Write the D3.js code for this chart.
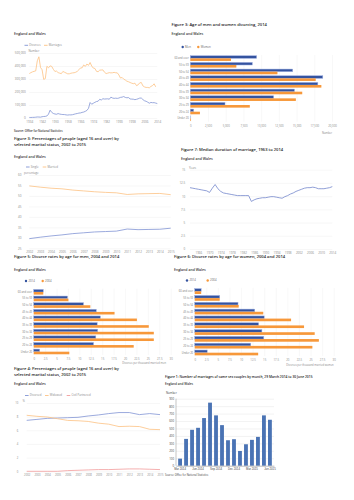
<!DOCTYPE html>
<html>
<head>
<meta charset="utf-8">
<script src="https://cdn.jsdelivr.net/npm/d3@7"></script>
<style>
  body { margin: 0; background: #fff; }
  svg { display: block; font-family: "Open Sans", sans-serif; }
</style>
</head>
<body>
<svg id="page" width="354" height="500"></svg>
<script>
// ---- data ----
const longYears = d3.range(1934, 2015)
const divorces = [4300, 4100, 4800, 5000, 6100, 7900, 7500, 6400, 9900, 11600, 12300, 15600, 29800, 60300, 43700, 34900,
  30900, 28800, 33900, 30300, 28000, 26800, 26300, 23800, 22700, 24300, 23900, 25400, 28900, 32100, 34700, 37800,
  39100, 43100, 45800, 51300, 58200, 74400, 119000, 106000, 113500, 120500, 126700, 129100, 143700, 138700, 148300,
  145700, 146700, 147500, 144500, 160300, 153900, 151000, 152600, 150900, 153400, 158700, 160400, 165000, 158200,
  155500, 157100, 146700, 145200, 144600, 141100, 143800, 147700, 153100, 153400, 141800, 132600, 128500, 121800,
  113900, 119600, 117600, 118100, 114700, 111200]
const marriages = [342000, 349000, 355000, 359000, 362000, 440000, 471000, 389000, 371000, 297000, 303000, 398000,
  386000, 401000, 397000, 375000, 358000, 361000, 349000, 345000, 341000, 358000, 352000, 346000, 340000, 340000,
  344000, 347000, 348000, 352000, 359000, 371000, 385000, 386000, 408000, 397000, 415000, 405000, 427000, 400000,
  384000, 381000, 359000, 356000, 368000, 369000, 370000, 352000, 342000, 345000, 349000, 347000, 348000, 351000,
  348000, 347000, 331000, 307000, 312000, 299000, 292000, 283000, 279000, 273000, 268000, 264000, 268000, 249000,
  255000, 270000, 273000, 247000, 239000, 235000, 235000, 232000, 243000, 249000, 263000, 240000]

const ageGroups = ['60 and over', '55 to 59', '50 to 54', '45 to 49', '40 to 44', '35 to 39', '30 to 34', '25 to 29', '20 to 24', 'Under 20']
const menDivorcing = [9360, 8750, 14450, 18700, 18000, 14700, 11760, 4900, 470, 20]
const womenDivorcing = [5740, 6500, 12300, 17700, 18500, 15800, 14900, 8400, 1360, 100]

const statusYears = [2002, 2003, 2004, 2005, 2006, 2007, 2008, 2009, 2010, 2011, 2012, 2013, 2014, 2015]
const single = [29.6, 30.3, 30.9, 31.4, 32.0, 32.4, 32.8, 33.0, 33.2, 34.2, 33.9, 34.0, 34.1, 34.6]
const married = [54.8, 54.2, 53.7, 53.4, 52.8, 52.4, 52.0, 51.7, 51.5, 50.7, 51.0, 51.1, 51.2, 50.6]
const divorcedPct = [7.46, 7.6, 7.75, 7.8, 7.85, 7.9, 8.1, 8.25, 8.45, 8.6, 8.6, 8.3, 8.45, 8.3]
const widowedPct = [8.2, 8.05, 7.95, 7.7, 7.45, 7.4, 7.3, 7.05, 6.9, 6.55, 6.6, 6.55, 6.15, 6.1]
const civilPct = [0, 0, 0, 0, 0.1, 0.15, 0.2, 0.25, 0.25, 0.3, 0.35, 0.35, 0.3, 0.25]

const durationYears = d3.range(1963, 2015)
const medianDuration = [11.6, 11.5, 11.4, 11.3, 11.2, 11.1, 11.0, 10.7, 11.5, 12.2, 11.4, 10.9, 10.6, 10.5, 10.4, 10.3,
  10.2, 10.1, 10.1, 10.1, 10.1, 10.1, 9.0, 9.3, 9.5, 9.6, 9.7, 9.7, 9.8, 9.9, 9.9, 9.8, 9.7, 9.6, 9.9, 10.1, 10.4,
  10.6, 10.9, 11.1, 11.3, 11.5, 11.6, 11.6, 11.7, 11.6, 11.4, 11.4, 11.4, 11.5, 11.6, 11.8]

const menRate2014 = [2.1, 7.4, 10.9, 13.7, 14.6, 13.9, 14.0, 13.6, 13.1, 1.3]
const menRate2004 = [2.1, 7.6, 12.4, 17.7, 22.6, 25.2, 26.3, 26.3, 21.9, 7.8]
const womenRate2014 = [1.4, 5.4, 9.35, 12.95, 15.0, 13.8, 14.5, 14.9, 12.1, 2.7]
const womenRate2004 = [1.4, 5.4, 9.5, 14.8, 20.8, 23.6, 25.9, 26.8, 25.4, 13.7]

const months = ['Mar 2014', 'Apr 2014', 'May 2014', 'Jun 2014', 'Jul 2014', 'Aug 2014', 'Sep 2014', 'Oct 2014',
  'Nov 2014', 'Dec 2014', 'Jan 2015', 'Feb 2015', 'Mar 2015', 'Apr 2015', 'May 2015', 'Jun 2015']
const sameSex = [95, 360, 482, 509, 640, 847, 676, 545, 342, 356, 198, 288, 347, 387, 676, 617]

const blueLine = '#8194d4', orangeLine = '#fdc283'
const blueBar = '#34539f', orangeBar = '#f7983a'

const svg = d3.select('#page')

function label(x, y, str, o = {}) {
  return svg.append('text')
    .attr('x', x).attr('y', y)
    .attr('font-size', o.size || 3)
    .attr('font-weight', o.weight || 400)
    .attr('fill', o.fill || '#333')
    .attr('text-anchor', o.anchor || 'start')
    .attr('dominant-baseline', 'middle')
    .text(str)
}

function styleAxis(a, size, fill) {
  a.select('.domain').remove()
  a.selectAll('text').attr('font-size', size).attr('fill', fill).attr('font-family', '"Open Sans", sans-serif')
}

/* line charts */
function lineChart(c) {
  const g = svg.append('g')
  const x = d3.scaleLinear().domain(c.xDomain).range([c.left, c.right])
  const y = d3.scaleLinear().domain(c.yDomain).range([c.bottom, c.top])

  g.append('g')
    .attr('transform', `translate(${c.left},0)`)
    .call(d3.axisLeft(y).tickValues(c.yTicks).tickSize(-(c.right - c.left + (c.gridExtra || 0))).tickPadding(c.yPad).tickFormat(c.yFmt))
    .call(a => {
      styleAxis(a, c.tickSize || 3, '#8a8a8a')
      a.selectAll('line').attr('stroke', '#ececec').attr('stroke-width', 0.4)
    })

  g.append('g')
    .attr('transform', `translate(0,${c.bottom})`)
    .call(d3.axisBottom(x).tickValues(c.xTicks).tickSize(0).tickFormat(d3.format('d')))
    .call(a => {
      styleAxis(a, c.tickSize || 3, '#8a8a8a')
      a.selectAll('text').attr('dy', null).attr('y', c.xLabelY - c.bottom).attr('dominant-baseline', 'middle')
    })

  c.series.forEach(s => {
    g.append('path')
      .datum(s.values.map((v, i) => [s.xs[i], v]))
      .attr('fill', 'none')
      .attr('stroke', s.color)
      .attr('stroke-width', 0.8)
      .attr('stroke-linejoin', 'round')
      .attr('d', d3.line().x(d => x(d[0])).y(d => y(d[1])))
  })
}

/* horizontal grouped bars */
function hbarChart(c) {
  const g = svg.append('g')
  const x = d3.scaleLinear().domain(c.xDomain).range([c.left, c.right])
  const y = d3.scaleBand().domain(ageGroups).range([c.top, c.bottom]).paddingInner(0.22).paddingOuter(0.11)
  const inner = d3.scaleBand().domain(d3.range(c.series.length)).range([0, y.bandwidth()])

  g.append('g')
    .attr('transform', `translate(0,${c.bottom})`)
    .call(d3.axisBottom(x).tickValues(c.xTicks).tickSize(-(c.bottom - c.top)).tickFormat(c.xFmt))
    .call(a => {
      styleAxis(a, 2.8, '#8a8a8a')
      a.selectAll('line').attr('stroke', '#eeeeee').attr('stroke-width', 0.4)
      a.selectAll('text').attr('dy', null).attr('y', c.xLabelY - c.bottom).attr('dominant-baseline', 'middle')
    })

  g.append('g')
    .attr('transform', `translate(${c.left},0)`)
    .call(d3.axisLeft(y).tickSize(0).tickPadding(1.6))
    .call(a => styleAxis(a, 2.6, '#777'))

  c.series.forEach((s, k) => {
    g.selectAll(null)
      .data(s.values)
      .enter()
      .append('rect')
      .attr('x', x(0))
      .attr('y', (d, i) => y(ageGroups[i]) + inner(k))
      .attr('width', d => x(d) - x(0))
      .attr('height', inner.bandwidth())
      .attr('fill', s.color)
      .attr('stroke', s.stroke || 'none')
      .attr('stroke-width', 0.5)
  })
}

function circleLegend(items, y) {
  items.forEach(it => {
    svg.append('circle').attr('cx', it.x).attr('cy', y).attr('r', 1.2).attr('fill', it.color)
    label(it.x + 2.4, y, it.name, { size: 2.8, fill: '#666' })
  })
}

function lineLegend(items, y) {
  items.forEach(it => {
    svg.append('line').attr('x1', it.x).attr('x2', it.x + 3.6).attr('y1', y).attr('y2', y)
      .attr('stroke', it.color).attr('stroke-width', 0.9)
    label(it.x + 4.8, y, it.name, { size: 2.8, fill: '#888' })
  })
}

const titleOpt = { size: 4.1, weight: 600, fill: '#222' }
const subOpt = { size: 3.5, weight: 600, fill: '#333' }

/* panel 1: marriages and divorces */
label(14, 34.5, 'England and Wales', subOpt)
lineLegend([{ x: 24.5, name: 'Divorces', color: blueLine }, { x: 44, name: 'Marriages', color: orangeLine }], 45.3)
label(28.5, 51, 'Number', { size: 2.8, fill: '#888' })
lineChart({
  left: 29.3, right: 157.3, top: 53, bottom: 118,
  xDomain: [1934, 2014], yDomain: [0, 500000],
  yTicks: [0, 100000, 200000, 300000, 400000, 500000], yFmt: d3.format(','), yPad: 3.5,
  xTicks: d3.range(1934, 2015, 8), xLabelY: 122,
  series: [
    { xs: longYears, values: divorces, color: blueLine },
    { xs: longYears, values: marriages, color: orangeLine }
  ]
})

/* panel 2: age of men and women divorcing */
label(171.5, 24.5, 'Figure 3: Age of men and women divorcing, 2014', titleOpt)
label(171.5, 34.5, 'England and Wales', subOpt)
circleLegend([{ x: 182.7, name: 'Men', color: blueBar }, { x: 198.3, name: 'Women', color: orangeBar }], 47)
hbarChart({
  left: 190.3, right: 332, top: 55, bottom: 121.7,
  xDomain: [0, 20000], xTicks: d3.range(0, 20001, 2500), xFmt: d3.format(','), xLabelY: 126.7,
  series: [
    { values: menDivorcing, color: blueBar, stroke: '#9fb0e2' },
    { values: womenDivorcing, color: orangeBar }
  ]
})
label(332, 133, 'Number', { size: 2.6, fill: '#888', anchor: 'end' })

/* panel 3: single and married */
label(14, 131.5, 'Source: Office for National Statistics', { size: 2.8, weight: 600, fill: '#333' })
label(14, 138.5, 'Figure 3: Percentages of people (aged 16 and over) by', titleOpt)
label(14, 144.5, 'selected marital status, 2002 to 2015', titleOpt)
label(14, 157, 'England and Wales', subOpt)
lineLegend([{ x: 26, name: 'Single', color: blueLine }, { x: 42.7, name: 'Married', color: orangeLine }], 167)
label(24, 173, 'percentage', { size: 2.8, fill: '#888' })
lineChart({
  left: 29.3, right: 170.7, top: 175, bottom: 248.3,
  xDomain: [2002, 2015], yDomain: [25, 60],
  yTicks: d3.range(25, 61, 5), yFmt: d3.format('d'), yPad: 7.8,
  xTicks: statusYears, xLabelY: 252,
  series: [
    { xs: statusYears, values: single, color: blueLine },
    { xs: statusYears, values: married, color: orangeLine }
  ]
})

/* panel 4: median duration */
label(181, 149.5, 'Figure 7: Median duration of marriage, 1963 to 2014', titleOpt)
label(181, 159.5, 'England and Wales', subOpt)
label(189, 168, 'Years', { size: 2.8, fill: '#888' })
lineChart({
  left: 190, right: 332.3, top: 169.7, bottom: 249,
  xDomain: [1963, 2014], yDomain: [0, 15],
  yTicks: [0, 2.5, 5, 7.5, 10, 12.5, 15], yFmt: d3.format('~g'), yPad: 4.7,
  xTicks: d3.range(1966, 2015, 4), xLabelY: 253,
  series: [{ xs: durationYears, values: medianDuration, color: '#7487cc' }]
})

/* panel 5: divorce rates, men */
label(14, 257, 'Figure 5: Divorce rates by age for men, 2004 and 2014', titleOpt)
label(14, 270, 'England and Wales', subOpt)
circleLegend([{ x: 26, name: '2014', color: blueBar }, { x: 42.7, name: '2004', color: orangeBar }], 281)
hbarChart({
  left: 33.7, right: 170.7, top: 288.7, bottom: 355,
  xDomain: [0, 30], xTicks: d3.range(0, 30.1, 2.5), xFmt: d3.format('~g'), xLabelY: 359,
  series: [
    { values: menRate2014, color: blueBar, stroke: '#9fb0e2' },
    { values: menRate2004, color: orangeBar }
  ]
})
label(166, 363.5, 'Divorces per thousand married men', { size: 2.6, fill: '#888', anchor: 'end' })

/* panel 6: divorce rates, women */
label(174, 257, 'Figure 6: Divorce rates by age for women, 2004 and 2014', titleOpt)
label(174, 270, 'England and Wales', subOpt)
circleLegend([{ x: 187, name: '2014', color: blueBar }, { x: 207.7, name: '2004', color: orangeBar }], 280.5)
hbarChart({
  left: 194.7, right: 333.7, top: 287.9, bottom: 356.1,
  xDomain: [0, 30], xTicks: d3.range(0, 30.1, 2.5), xFmt: d3.format('~g'), xLabelY: 360,
  series: [
    { values: womenRate2014, color: blueBar, stroke: '#9fb0e2' },
    { values: womenRate2004, color: orangeBar }
  ]
})
label(333.7, 365, 'Divorces per thousand married women', { size: 2.6, fill: '#888', anchor: 'end' })

/* panel 7: divorced, widowed, civil partnered */
label(14, 368.5, 'Figure 4: Percentages of people (aged 16 and over) by', titleOpt)
label(14, 375, 'selected marital status, 2002 to 2015', titleOpt)
label(14, 384.5, 'England and Wales', subOpt)
lineLegend([
  { x: 25, name: 'Divorced', color: blueLine },
  { x: 45, name: 'Widowed', color: orangeLine },
  { x: 66.7, name: 'Civil Partnered', color: '#f29c9c' }
], 395.5)
label(22.5, 401, '%', { size: 2.8, fill: '#888' })
lineChart({
  left: 26.7, right: 160, top: 403, bottom: 471.3,
  xDomain: [2002, 2015], yDomain: [0, 10],
  yTicks: [0, 2, 4, 6, 8, 10], yFmt: d3.format('d'), yPad: 8.4,
  xTicks: statusYears, xLabelY: 475, tickSize: 2.7,
  series: [
    { xs: statusYears, values: divorcedPct, color: blueLine },
    { xs: statusYears, values: widowedPct, color: orangeLine },
    { xs: statusYears, values: civilPct, color: '#f29c9c' }
  ]
})

/* panel 8: same sex marriages by month */
label(165, 376.7, 'Figure 1: Number of marriages of same sex couples by month, 29 March 2014 to 30 June 2015', { size: 3.3, weight: 600, fill: '#222' })
label(165, 384.5, 'England and Wales', { size: 3.1, weight: 600, fill: '#333' })
label(166, 393, 'Number', { size: 2.8, fill: '#444' })
{
  const left = 176, right = 274, top = 398.7, bottom = 465.7
  const x = d3.scaleBand().domain(months).range([left, right]).padding(0.36)
  const y = d3.scaleLinear().domain([0, 900]).range([bottom, top])
  const g = svg.append('g')

  g.append('g')
    .attr('transform', `translate(${left},0)`)
    .call(d3.axisLeft(y).tickValues(d3.range(0, 901, 100)).tickSize(-(right - left)).tickPadding(2))
    .call(a => {
      styleAxis(a, 2.8, '#444')
      a.selectAll('line').attr('stroke', '#dddddd').attr('stroke-width', 0.4)
    })

  g.selectAll(null)
    .data(sameSex)
    .enter()
    .append('rect')
    .attr('x', (d, i) => x(months[i]))
    .attr('y', d => y(d))
    .attr('width', x.bandwidth())
    .attr('height', d => bottom - y(d))
    .attr('fill', '#4a73b4')

  g.append('g')
    .attr('transform', `translate(0,${bottom})`)
    .call(d3.axisBottom(x).tickValues(months.filter((m, i) => i % 3 == 0)).tickSize(0))
    .call(a => {
      a.select('.domain').attr('stroke', '#888').attr('stroke-width', 0.5)
      a.selectAll('text').attr('font-size', 2.8).attr('fill', '#444')
        .attr('dy', null).attr('y', 4).attr('dominant-baseline', 'middle')
    })

  g.append('line').attr('x1', left).attr('x2', left).attr('y1', top).attr('y2', bottom)
    .attr('stroke', '#888').attr('stroke-width', 0.5)
}
label(165, 474.8, 'Source: Office for National Statistics', { size: 2.6, fill: '#444' })
</script>
</body>
</html>
